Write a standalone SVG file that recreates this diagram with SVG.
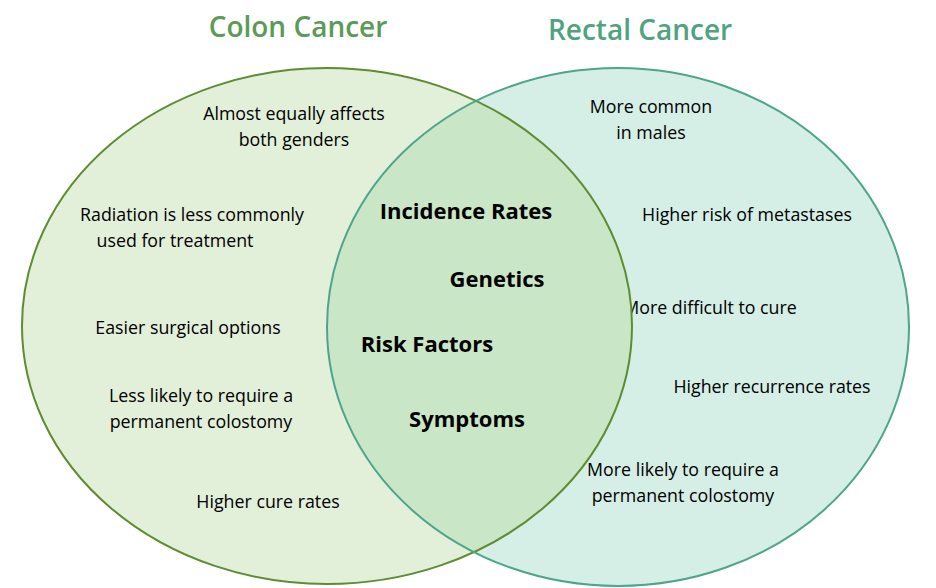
<svg xmlns="http://www.w3.org/2000/svg" width="936" height="588" viewBox="0 0 936 588">
<style>
.t{font-family:"Open Sans","Liberation Sans",sans-serif;font-size:17.8px;fill:#000;text-anchor:middle}
.b{font-family:"Open Sans","Liberation Sans",sans-serif;font-size:22px;font-weight:bold;fill:#000;text-anchor:middle}
.h{font-family:"Open Sans","Liberation Sans",sans-serif;font-size:28px;font-weight:600;text-anchor:middle}
</style>
<defs><clipPath id="cl"><ellipse cx="327" cy="326" rx="305" ry="258"/></clipPath></defs>
<rect width="936" height="588" fill="#fff"/>
<g id="colon">
<ellipse cx="327" cy="326" rx="305" ry="258" fill="#e2efd9"/>
<text class="h" x="298" y="37" fill="#5b9a57">Colon Cancer</text>
<text class="t" x="294" y="120">Almost equally affects</text>
<text class="t" x="294" y="146">both genders</text>
<text class="t" x="192" y="221">Radiation is less commonly</text>
<text class="t" x="175" y="247">used for treatment</text>
<text class="t" x="188" y="334">Easier surgical options</text>
<text class="t" x="201" y="402">Less likely to require a</text>
<text class="t" x="201" y="428">permanent colostomy</text>
<text class="t" x="268" y="508">Higher cure rates</text>
</g>
<g id="rectal">
<ellipse cx="618" cy="327" rx="291" ry="259" fill="#d5eee6"/>
<text class="h" x="640" y="40" fill="#4fa37f">Rectal Cancer</text>
<text class="t" x="651" y="113">More common</text>
<text class="t" x="651" y="139">in males</text>
<text class="t" x="747" y="221">Higher risk of metastases</text>
<text class="t" x="710" y="314">More difficult to cure</text>
<text class="t" x="772" y="393">Higher recurrence rates</text>
<text class="t" x="683" y="476">More likely to require a</text>
<text class="t" x="683" y="502">permanent colostomy</text>
</g>
<g id="overlap">
<ellipse cx="618" cy="327" rx="291" ry="259" fill="#c9e6c6" clip-path="url(#cl)"/>
<ellipse cx="327" cy="326" rx="305" ry="258" fill="none" stroke="#5e8c31" stroke-width="2"/>
<ellipse cx="618" cy="327" rx="291" ry="259" fill="none" stroke="#4da58c" stroke-width="2"/>
<text class="b" x="466" y="219">Incidence Rates</text>
<text class="b" x="497" y="287">Genetics</text>
<text class="b" x="427" y="352">Risk Factors</text>
<text class="b" x="467" y="427">Symptoms</text>
</g>
</svg>
